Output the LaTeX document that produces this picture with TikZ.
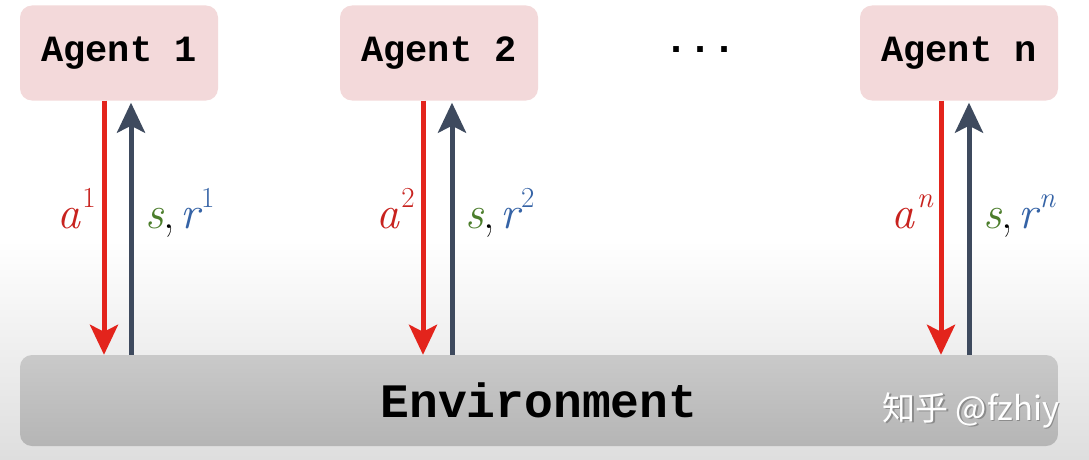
\documentclass[tikz,border=0pt]{standalone}
\usepackage{fontspec}
\setmonofont{Liberation Mono}
\newfontfamily\cjk{Noto Sans CJK SC}
\usetikzlibrary{arrows.meta}
\definecolor{agentfill}{HTML}{F3D9DA}
\definecolor{actred}{HTML}{E3241C}
\definecolor{obsdark}{HTML}{3E4A5E}
\definecolor{lblred}{HTML}{C8221E}
\definecolor{lblgreen}{HTML}{4B7D2B}
\definecolor{lblblue}{HTML}{3563A6}
\newcommand{\supx}[1]{\kern2pt\raisebox{0.45em}{\fontsize{29}{30}\selectfont #1}}
\tikzset{
  agent/.style={fill=agentfill, rounded corners=12pt, minimum width=198pt, minimum height=95pt,
    inner sep=0pt, font=\ttfamily\bfseries\fontsize{37}{40}\selectfont},
  envbox/.style={rounded corners=12pt, minimum width=1038pt, minimum height=91pt, inner sep=0pt,
    top color=black!21, bottom color=black!29, font=\ttfamily\bfseries\fontsize{48}{50}\selectfont},
  act/.style={actred, line width=5pt, -{Stealth[length=30pt,width=28pt,inset=7pt]}},
  obs/.style={obsdark, line width=5pt, -{Stealth[length=30pt,width=28pt,inset=7pt]}},
  lbl/.style={inner sep=0pt, font=\fontsize{46}{48}\selectfont},
}
\begin{document}
\begin{tikzpicture}[x=1pt,y=-1pt]
\useasboundingbox (0,0) rectangle (1089,460);
\fill[white] (0,0) rectangle (1089,240);
\shade[top color=white, bottom color=black!13] (0,240) rectangle (1089,460);

\node[agent] (a1) at (119,53) {Agent 1};
\node[agent] (a2) at (439,53) {Agent 2};
\node[agent] (an) at (959,53) {Agent n};
\node[inner sep=0pt, font=\ttfamily\bfseries\fontsize{40}{40}\selectfont] (dots) at (700,50) {...};
\node[envbox] (env) at (539,400.5) {Environment};

% agent 1
\draw[act] ([xshift=-15pt]a1.south) -- ([xshift=-15pt]a1.south |- env.north);
\draw[obs] ([xshift=12pt]a1.south |- env.north) -- ([xshift=12pt,yshift=-2pt]a1.south);
\node[lbl, anchor=base east] (l1a) at (96,228) {\textcolor{lblred}{\itshape a\supx{\upshape 1}}};
\node[lbl, anchor=base west] (l1s) at (145,228) {\textcolor{lblgreen}{\itshape s},\kern5pt\textcolor{lblblue}{\itshape r\supx{\upshape 1}}};
% agent 2
\draw[act] ([xshift=-16pt]a2.south) -- ([xshift=-16pt]a2.south |- env.north);
\draw[obs] ([xshift=13pt]a2.south |- env.north) -- ([xshift=13pt,yshift=-2pt]a2.south);
\node[lbl, anchor=base east] (l2a) at (415,228) {\textcolor{lblred}{\itshape a\supx{\upshape 2}}};
\node[lbl, anchor=base west] (l2s) at (465,228) {\textcolor{lblgreen}{\itshape s},\kern5pt\textcolor{lblblue}{\itshape r\supx{\upshape 2}}};
% agent n
\draw[act] ([xshift=-18pt]an.south) -- ([xshift=-18pt]an.south |- env.north);
\draw[obs] ([xshift=10pt]an.south |- env.north) -- ([xshift=10pt,yshift=-2pt]an.south);
\node[lbl, anchor=base east] (lna) at (933,228) {\textcolor{lblred}{\itshape a\supx{n}}};
\node[lbl, anchor=base west] (lns) at (983,228) {\textcolor{lblgreen}{\itshape s},\kern5pt\textcolor{lblblue}{\itshape r\supx{n}}};

% watermark
\node[text=black!45, inner sep=0pt, font=\cjk\fontsize{33}{35}\selectfont] (wms) at (972.5,411.5) {知乎 @fzhiy};
\node[text=white, inner sep=0pt, font=\cjk\fontsize{33}{35}\selectfont] (wm) at (971,410) {知乎 @fzhiy};
\end{tikzpicture}
\end{document}
